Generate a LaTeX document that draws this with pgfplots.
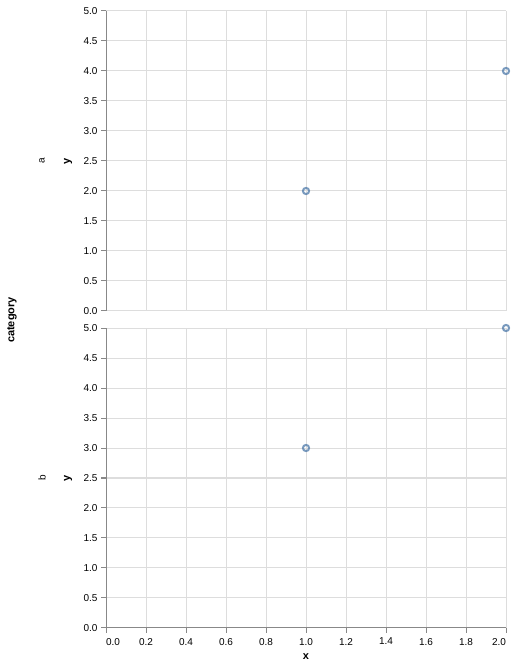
\documentclass[border=0pt]{standalone}
\usepackage{pgfplots}
\pgfplotsset{compat=1.18}
\usepackage{fontspec}
\setmainfont{Liberation Sans}
\definecolor{cgrid}{HTML}{DDDDDD}
\definecolor{cdom}{HTML}{888888}
\definecolor{cpt}{HTML}{4C78A8}
\newcommand\px[2]{({#1pt},{(669-#2)*1pt})}
\pgfplotsset{
  facet/.style={
    scale only axis, width=400pt, height=300pt,
    xmin=0, xmax=2, ymin=0, ymax=5,
    xtick={0,0.2,...,2.01}, ytick={0,0.5,...,5.01},
    axis x line=bottom, axis y line=left,
    axis line style={-, draw=cdom, line width=1pt},
    grid=major, grid style={cgrid, line width=1pt},
    tick align=outside, major tick length=5pt,
    major tick style={draw=cdom, line width=1pt},
    /pgf/number format/assume math mode=true,
    /pgf/number format/.cd, fixed, fixed zerofill, precision=1, /pgfplots/.cd,
    ticklabel style={font=\fontsize{10}{12}\selectfont},
    xticklabel style={yshift=-1.5pt},
    clip=false,
  },
  pt/.style={only marks, mark=o, mark size=3.1pt, line width=2pt,
    draw=cpt, mark options={draw=cpt, fill=none}, draw opacity=0.75},
}
\begin{document}
\begin{tikzpicture}
\useasboundingbox (0,0) rectangle (517pt,669pt);
% top facet (a)
\begin{axis}[facet, at={(106pt,358pt)}, anchor=south west,
  x axis line style={draw=cgrid}, xticklabels={},
  xtick style={draw=none}]
\addplot[pt] coordinates {(1,2) (2,4)};
\end{axis}
% bottom facet (b)
\begin{axis}[facet, at={(106pt,41pt)}, anchor=south west,
  xticklabels={\rlap{0.0},0.2,0.4,0.6,0.8,1.0,1.2,1.4,1.6,1.8,\llap{2.0}}]
\addplot[pt] coordinates {(1,3) (2,5)};
\end{axis}
\begin{scope}[every node/.style={inner sep=0pt}]
\node[rotate=90, font=\fontsize{11}{13}\selectfont\bfseries] at \px{12}{320} {category};
\node[rotate=90, font=\fontsize{10}{12}\selectfont] at \px{42}{161} {a};
\node[rotate=90, font=\fontsize{10}{12}\selectfont] at \px{42}{478} {b};
\node[rotate=90, font=\fontsize{11}{13}\selectfont\bfseries] at \px{68}{161} {y};
\node[rotate=90, font=\fontsize{11}{13}\selectfont\bfseries] at \px{68}{478} {y};
\node[font=\fontsize{11}{13}\selectfont\bfseries] at \px{306}{657} {x};
\end{scope}
\end{tikzpicture}
\end{document}
